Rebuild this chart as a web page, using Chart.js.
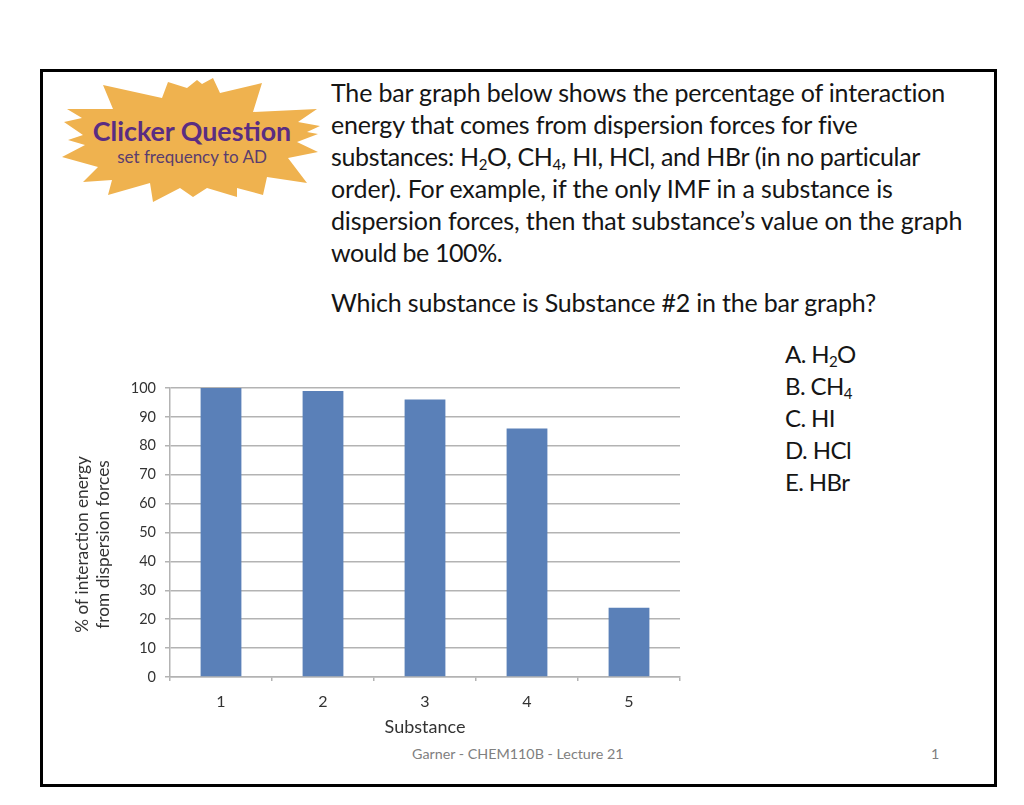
<!DOCTYPE html>
<html><head><meta charset="utf-8">
<script src="https://cdn.jsdelivr.net/npm/chart.js@4/dist/chart.umd.min.js"></script>
<style>
html,body{margin:0;padding:0;background:#fff;width:1024px;height:805px;overflow:hidden;font-family:Lato,sans-serif}
#frame{position:absolute;left:40px;top:69px;width:951px;height:712px;border:3px solid #000}
#c{position:absolute;left:0;top:0}
.t{position:absolute;white-space:nowrap;font-size:25px;line-height:32px;color:#151515}
.a{font-size:24px;letter-spacing:-0.6px}
.t sub{font-size:15px;line-height:0;vertical-align:-4px}
.f{position:absolute;white-space:nowrap;font-size:14.3px;line-height:18px;color:#808080}
svg{position:absolute;left:0;top:0}
</style></head><body>
<div id="frame"></div>
<svg width="1024" height="230" viewBox="0 0 1024 230">
<polygon fill="#efb24f" points="103,85 162,98 168,82 187,88 197,80 202,84 213,78 220,93 262,83 253,112 317,109 298,122 320,126 307,132 318,134 297,142 318,152 288,158 307,183 267,177 263,195 237,188 237,197 207,188 193,197 180,188 153,202 150,183 108,195 112,180 83,182 98,167 62,157 85,145 68,140 83,135 64,122 82,118 67,109 113,109"/>
<text x="192" y="141" text-anchor="middle" font-family="Lato" font-weight="700" font-size="26.8" fill="#5a2d82">Clicker Question</text>
<text x="192" y="163" text-anchor="middle" font-family="Lato" font-size="17" fill="#5a3d6e">set frequency to AD</text>
</svg>
<div class="t" style="left:331px;top:76px;letter-spacing:-0.18px">The bar graph below shows the percentage of interaction</div>
<div class="t" style="left:331px;top:108px;letter-spacing:-0.2px">energy that comes from dispersion forces for five</div>
<div class="t" style="left:331px;top:140px;letter-spacing:-0.36px">substances: H<sub>2</sub>O, CH<sub>4</sub>, HI, HCl, and HBr (in no particular</div>
<div class="t" style="left:331px;top:172px;letter-spacing:-0.11px">order). For example, if the only IMF in a substance is</div>
<div class="t" style="left:331px;top:204px;letter-spacing:-0.13px">dispersion forces, then that substance’s value on the graph</div>
<div class="t" style="left:331px;top:236px;letter-spacing:-0.4px">would be 100%.</div>
<div class="t" style="left:331px;top:286px;letter-spacing:-0.2px">Which substance is Substance #2 in the bar graph?</div>
<div class="t a" style="left:785px;top:338px">A. H<sub>2</sub>O</div>
<div class="t a" style="left:785px;top:370px">B. CH<sub>4</sub></div>
<div class="t a" style="left:785px;top:402px">C. HI</div>
<div class="t a" style="left:785px;top:434px">D. HCl</div>
<div class="t a" style="left:785px;top:466px">E. HBr</div>
<div class="f" style="left:412px;top:745px">Garner - CHEM110B - Lecture 21</div>
<div class="f" style="left:931px;top:745px">1</div>
<canvas id="c" width="1024" height="805"></canvas>
<script>
const categories = ["1","2","3","4","5"];
const values = [100,99,96,86,24];
const yTitleLines = ["% of interaction energy","from dispersion forces"];
const xTitle = "Substance";
const axisGrey = "#b3b3b3";
const textGrey = "#333333";
Chart.defaults.font.family = "Lato";
const shiftYTitle = {
  id:"shiftYTitle",
  afterLayout(chart){
    const s = chart.scales.y;
    if (s._shifted) return;
    const orig = s.drawTitle;
    s.drawTitle = function(){ const c=this.ctx; c.save(); c.translate(0,12); orig.call(this); c.restore(); };
    s._shifted = true;
  }
};
new Chart(document.getElementById("c"),{
  type:"bar",
  data:{labels:categories,datasets:[{data:values,backgroundColor:"#5a80b8",borderWidth:0,barPercentage:0.4,categoryPercentage:1}]},
  plugins:[shiftYTitle],
  options:{
    responsive:false,animation:false,devicePixelRatio:1,
    layout:{padding:{left:72,top:388,right:344,bottom:67}},
    plugins:{legend:{display:false},tooltip:{enabled:false}},
    scales:{
      y:{min:0,max:100,
        ticks:{stepSize:10,color:textGrey,font:{size:14.5},padding:9},
        grid:{color:axisGrey,lineWidth:1.5,tickLength:5,tickColor:axisGrey},
        border:{color:axisGrey,width:1.5},
        title:{display:true,text:yTitleLines,color:textGrey,font:{size:17.3},padding:{top:0,bottom:10},align:"center"},
        afterFit(a){a.width=98}
      },
      x:{
        ticks:{color:textGrey,font:{size:16},padding:11},
        grid:{drawOnChartArea:false,offset:true,color:axisGrey,lineWidth:1.5,tickLength:4},
        border:{color:axisGrey,width:1.5},
        title:{display:true,text:xTitle,color:textGrey,font:{size:18},padding:{top:4,bottom:0}},
        afterFit(a){a.height=61}
      }
    }
  }
});
</script>
</body></html>
